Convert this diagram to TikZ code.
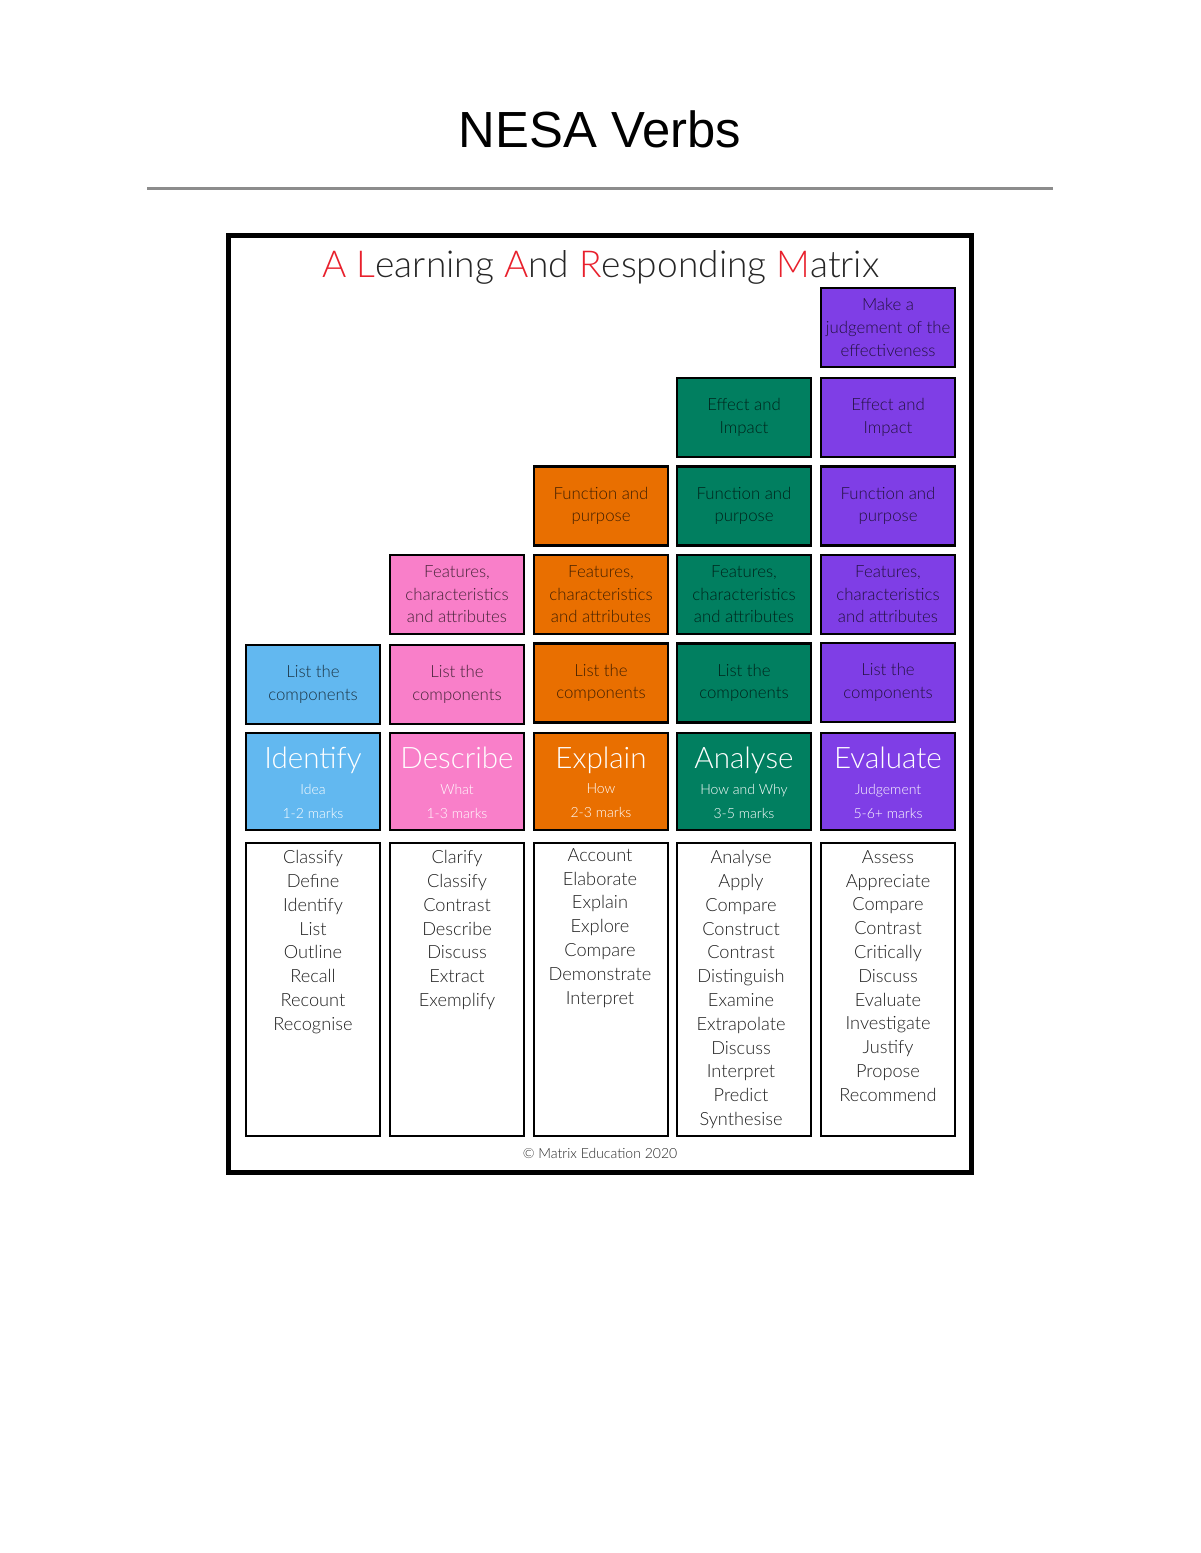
\documentclass[tikz,border=0pt]{standalone}
\usepackage{fontspec}
\setmainfont{Liberation Sans}
\newfontfamily\lightfont[UprightFont=* Light]{Lato}
\definecolor{blue_i}{HTML}{62B8F0}
\definecolor{pink_i}{HTML}{F97FC9}
\definecolor{orange_i}{HTML}{E96F00}
\definecolor{green_i}{HTML}{017F60}
\definecolor{purple_i}{HTML}{7F3EE6}
\definecolor{red_i}{HTML}{E8202C}
\begin{document}
\begin{tikzpicture}[x=0.5pt,y=-0.5pt]
	\tikzstyle{box_i} = [rectangle, draw=black, line width=1.2pt, minimum width=67pt, minimum height=39.5pt, inner sep=0pt]
\tikzstyle{cell_i} = [box_i, align=center, text opacity=0.72, font=\lightfont\fontsize{8.4}{11.3}\selectfont]
\tikzstyle{head_i} = [box_i, minimum height=48.5pt]
\tikzstyle{verb_i} = [box_i, minimum height=146.5pt]
\tikzstyle{name_i} = [anchor=base, inner sep=0pt, text=white, font=\lightfont\fontsize{14.8}{18}\selectfont]
\tikzstyle{sub_i} = [text=white, align=center, font=\lightfont\fontsize{7}{12}\selectfont]
\tikzstyle{list_i} = [anchor=north, align=center, inner sep=0pt, text=black!88, font=\lightfont\fontsize{9.1}{11.9}\selectfont]
\useasboundingbox (0,0) rectangle (1200,1553);

%page heading
\node[font=\fontsize{25.4}{30}\selectfont] (heading) at (600,129) {NESA Verbs};
\coordinate (rule_l) at (147,188.5);
\coordinate (rule_r) at (1053,188.5);
\draw[line width=1.5pt, draw=black!45] (rule_l) -- (rule_r);

%frame and matrix title
\node[draw=black, line width=2.7pt, minimum width=371.5pt, minimum height=468.5pt] (frame) at (600,704) {};
\node[font=\lightfont\fontsize{18.55}{22}\selectfont, text=black!85] (matrix) at (601,267) {\textcolor{red_i}{A L}earning \textcolor{red_i}{A}nd \textcolor{red_i}{R}esponding \textcolor{red_i}{M}atrix};

%top rows
\node[cell_i, fill=purple_i] (judge_5) at (888,327.5) {Make a\\judgement of the\\effectiveness};
\foreach \name/\x/\col in {effect_4/744/green_i, effect_5/888/purple_i}
  	\node[cell_i, fill=\col] (\name) at (\x,417.5) {Effect and\\Impact};
\foreach \name/\x/\col in {func_3/601/orange_i, func_4/744/green_i, func_5/888/purple_i}
  	\node[cell_i, fill=\col] (\name) at (\x,506) {Function and\\purpose};
\foreach \name/\x/\col in {feat_2/457/pink_i, feat_3/601/orange_i, feat_4/744/green_i, feat_5/888/purple_i}
  	\node[cell_i, fill=\col] (\name) at (\x,594.5) {Features,\\characteristics\\and attributes};
\foreach \name/\x/\y/\col in {comp_1/313/684.5/blue_i, comp_2/457/684.5/pink_i, comp_3/601/683/orange_i, comp_4/744/683/green_i, comp_5/888/682.5/purple_i}
  	\node[cell_i, fill=\col] (\name) at (\x,\y) {List the\\components};

%verb headers
\foreach \name/\x/\col/\verb/\what/\marks in {head_1/313/blue_i/Identify/Idea/1-2 marks, head_2/457/pink_i/Describe/What/1-3 marks, head_3/601/orange_i/Explain/How/2-3 marks, head_4/744/green_i/Analyse/How and Why/3-5 marks, head_5/888/purple_i/Evaluate/Judgement/5-6+ marks} {
  	\node[head_i, fill=\col] (\name) at (\x,781.5) {};
  	\node[name_i] (\name_t) at (\x,768) {\verb};
  	\node[sub_i] (\name_s) at (\x,801) {\what\\\marks};
}

%verb lists
\foreach \name/\x in {verbs_1/313, verbs_2/457, verbs_3/601, verbs_4/744, verbs_5/888}
  	\node[verb_i] (\name) at (\x,989.5) {};

\node[list_i] (list_1) at (313,850) {Classify\\Define\\Identify\\List\\Outline\\Recall\\Recount\\Recognise};
\node[list_i] (list_2) at (457,850) {Clarify\\Classify\\Contrast\\Describe\\Discuss\\Extract\\Exemplify};
\node[list_i] (list_3) at (600,848) {Account\\Elaborate\\Explain\\Explore\\Compare\\Demonstrate\\Interpret};
\node[list_i] (list_4) at (741,850) {Analyse\\Apply\\Compare\\Construct\\Contrast\\Distinguish\\Examine\\Extrapolate\\Discuss\\Interpret\\Predict\\Synthesise};
\node[list_i] (list_5) at (888,850) {Assess\\Appreciate\\Compare\\Contrast\\Critically\\Discuss\\Evaluate\\Investigate\\Justify\\Propose\\Recommend};

\node[font=\lightfont\fontsize{7}{9}\selectfont, text=black!85] (credit) at (600,1153) {© Matrix Education 2020};
\end{tikzpicture}
\end{document}
